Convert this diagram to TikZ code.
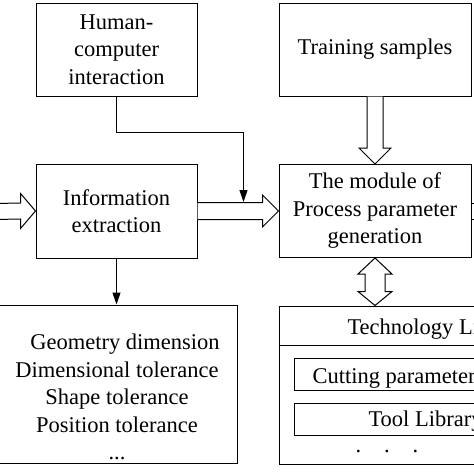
\documentclass[tikz,border=0pt]{standalone}
\usepackage{fontspec}
\setmainfont{Liberation Serif}
\usetikzlibrary{calc,arrows.meta}
\begin{document}
\begin{tikzpicture}[x=1pt,y=-1pt,line width=1pt,
  txt/.style={inner sep=0pt,align=center,font=\fontsize{22.5}{27.5}\selectfont},
  box/.style={draw,txt},
  hollow/.style={draw,fill=white,line join=miter},
  tip/.style={-{Triangle[length=12pt,width=8pt]}}]
\useasboundingbox (0,0) rectangle (474,474);
\clip (0,0) rectangle (474,474);
% boxes
\node[box,minimum width=161pt,minimum height=93pt] (hci) at (116.5,49.5) {Human-\\computer\\interaction};
\node[box,minimum width=192pt,minimum height=93pt] (train) at (375,49.5) {Training samples};
\node[box,minimum width=161pt,minimum height=94pt] (info) at (116.5,211) {Information\\extraction};
\node[box,minimum width=192pt,minimum height=93pt] (module) at (375,211) {The module of\\Process parameter\\generation};
\node[draw,minimum width=240pt,minimum height=158pt,inner sep=0pt] (geo) at (117,384) {};
\node[txt,anchor=north] (geotext) at (117,333.5) {\hspace*{16pt}Geometry dimension\\Dimensional tolerance\\Shape tolerance\\Position tolerance\\...};
\node[draw,minimum width=301pt,minimum height=158pt,inner sep=0pt] (tech) at (429.5,385) {};
\draw ($(tech.north west)+(0,40)$) -- ($(tech.north east)+(0,40)$);
\node[txt,anchor=base west] (techlbl) at (347,334) {Technology Library};
\node[draw,minimum width=271pt,minimum height=32pt,inner sep=0pt] (cut) at (429.5,374) {};
\node[txt,anchor=base west] (cutlbl) at (312,383) {Cutting parameter};
\node[draw,minimum width=271pt,minimum height=32pt,inner sep=0pt] (tool) at (429.5,419) {};
\node[txt,anchor=base west] (toollbl) at (368,426) {Tool Library};
\node[txt,anchor=base west] (dots) at (355,452) {.\hspace{23pt}.\hspace{23pt}.};
% hollow arrow in from left
\coordinate (inL) at (-5,211.5);
\draw[hollow] ($(inL)+(0,-8)$) -- ($(info.west)+(-15,-8)$) -- ($(info.west)+(-15,-17.5)$) -- (info.west)
  -- ($(info.west)+(-15,17.5)$) -- ($(info.west)+(-15,8)$) -- ($(inL)+(0,8)$);
% hollow arrow info -> module
\draw[hollow] ($(info.east)+(0,-8.5)$) -- ($(module.west)+(-16,-8.5)$) -- ($(module.west)+(-16,-16)$) -- (module.west)
  -- ($(module.west)+(-16,16)$) -- ($(module.west)+(-16,8.5)$) -- ($(info.east)+(0,8.5)$);
% hollow arrow training -> module
\draw[hollow] ($(train.south)+(-8,0)$) -- ($(module.north)+(-8,-16)$) -- ($(module.north)+(-16,-16)$) -- (module.north)
  -- ($(module.north)+(16,-16)$) -- ($(module.north)+(8,-16)$) -- ($(train.south)+(8,0)$);
% double hollow arrow module <-> tech
\coordinate (techtop) at (module.south |- tech.north);
\draw[hollow] (module.south) -- ($(module.south)+(17,16)$) -- ($(module.south)+(10,16)$) -- ($(techtop)+(10,-14)$)
  -- ($(techtop)+(17,-14)$) -- (techtop) -- ($(techtop)+(-17,-14)$) -- ($(techtop)+(-10,-14)$)
  -- ($(module.south)+(-10,16)$) -- ($(module.south)+(-17,16)$) -- cycle;
% hollow arrow out to right (cropped)
\coordinate (outR) at (490,211);
\draw ($(module.east)+(0,-8)$) -- ($(outR)+(0,-8)$);
\draw ($(module.east)+(0,8)$) -- ($(outR)+(0,8)$);
% thin connectors
\draw[tip] (hci.south) |- ($(info.east)+(46,-79)$) -- ($(info.east)+(46,-9)$);
\draw[tip] (info.south) -- (info.south |- geo.north);
\end{tikzpicture}
\end{document}
